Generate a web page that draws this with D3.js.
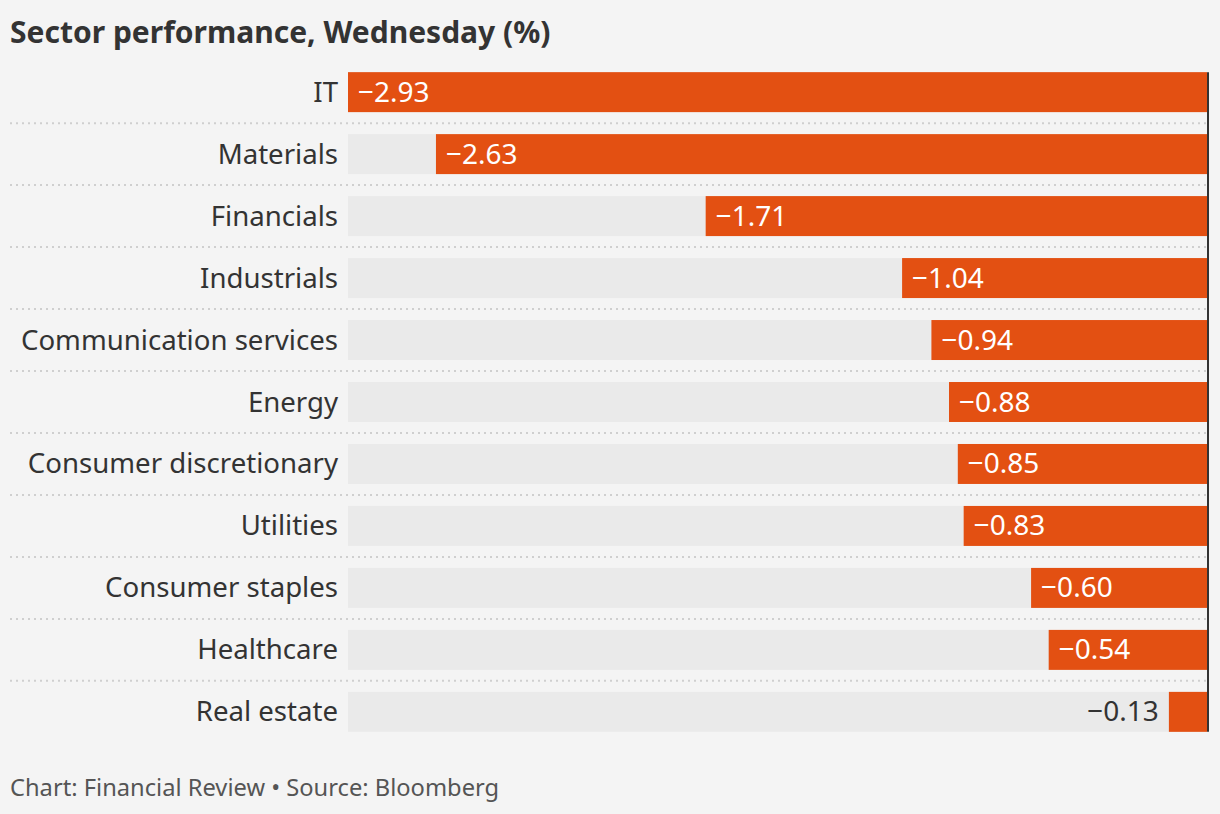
<!DOCTYPE html>
<html>
<head>
<meta charset="utf-8">
<script src="https://cdn.jsdelivr.net/npm/d3@7"></script>
<style>
  body { margin: 0; background: #f4f4f4; }
  svg text { font-family: "Noto Sans", sans-serif; }
</style>
</head>
<body>
<script>
// sector names and their changes on the day
var sectors = ["IT", "Materials", "Financials", "Industrials", "Communication services",
               "Energy", "Consumer discretionary", "Utilities", "Consumer staples",
               "Healthcare", "Real estate"];
var changes = [-2.93, -2.63, -1.71, -1.04, -0.94, -0.88, -0.85, -0.83, -0.60, -0.54, -0.13];

var width = 1220,
    height = 814,
    plotLeft = 348,
    plotRight = 1208,
    plotTop = 60;

var svg = d3.select("body")
            .append("svg")
            .attr("width", width)
            .attr("height", height);

svg.append("rect").attr("width", width).attr("height", height).attr("fill", "#f4f4f4");

svg.append("text")
   .attr("x", 10).attr("y", 43)
   .attr("font-size", 30).attr("font-weight", "bold")
   .attr("fill", "#333")
   .text("Sector performance, Wednesday (%)");

var x = d3.scaleLinear().domain([-2.93, 0]).range([plotLeft, plotRight - 1]);
var y = d3.scaleBand().domain(sectors).range([plotTop + 1, plotTop + 1 + 62 * sectors.length]).paddingInner(0.355).paddingOuter(0.18);

var rows = sectors.map(function(s, i){ return {name: s, value: changes[i]}; });

// dotted separators between rows
svg.selectAll("line.sep")
   .data(sectors.slice(1))
   .enter()
   .append("line")
   .attr("class", "sep")
   .attr("x1", 10).attr("x2", plotRight - 1)
   .attr("y1", function(d){ return y(d) - (y.step() - y.bandwidth()) / 2; })
   .attr("y2", function(d){ return y(d) - (y.step() - y.bandwidth()) / 2; })
   .attr("stroke", "#cfcfcf")
   .attr("stroke-width", 2)
   .attr("stroke-dasharray", "2,4");

// grey tracks
svg.selectAll("rect.track")
   .data(rows)
   .enter()
   .append("rect")
   .attr("class", "track")
   .attr("x", x(-2.93))
   .attr("y", function(d){ return y(d.name); })
   .attr("width", x(0) - x(-2.93))
   .attr("height", y.bandwidth())
   .attr("fill", "#eaeaea");

svg.selectAll("rect.bar")
   .data(rows)
   .enter()
   .append("rect")
   .attr("class", "bar")
   .attr("x", function(d){ return x(d.value); })
   .attr("y", function(d){ return y(d.name); })
   .attr("width", function(d){ return x(0) - x(d.value); })
   .attr("height", y.bandwidth())
   .attr("fill", "#e35012");

svg.selectAll("text.cat")
   .data(rows)
   .enter()
   .append("text")
   .attr("class", "cat")
   .attr("x", 338)
   .attr("y", function(d){ return y(d.name) + y.bandwidth() / 2 + 9.5; })
   .attr("text-anchor", "end")
   .attr("font-size", 27.6)
   .attr("fill", "#333")
   .text(function(d){ return d.name; });

var fmt = function(v){ return "\u2212" + Math.abs(v).toFixed(2); };

svg.selectAll("text.val")
   .data(rows)
   .enter()
   .append("text")
   .attr("class", "val")
   .attr("x", function(d){ return (x(0) - x(d.value) > 100) ? x(d.value) + 10 : x(d.value) - 10; })
   .attr("y", function(d){ return y(d.name) + y.bandwidth() / 2 + 9.5; })
   .attr("text-anchor", function(d){ return (x(0) - x(d.value) > 100) ? "start" : "end"; })
   .attr("font-size", 28)
   .attr("fill", function(d){ return (x(0) - x(d.value) > 100) ? "#fff" : "#333"; })
   .text(function(d){ return fmt(d.value); });

// zero line
svg.append("line")
   .attr("x1", x(0) + 1).attr("x2", x(0) + 1)
   .attr("y1", y(sectors[0])).attr("y2", y(sectors[sectors.length - 1]) + y.bandwidth())
   .attr("stroke", "#333")
   .attr("stroke-width", 2);

svg.append("text")
   .attr("x", 10).attr("y", 796)
   .attr("font-size", 23.7)
   .attr("fill", "#555")
   .text("Chart: Financial Review \u2022 Source: Bloomberg");
</script>
</body>
</html>
